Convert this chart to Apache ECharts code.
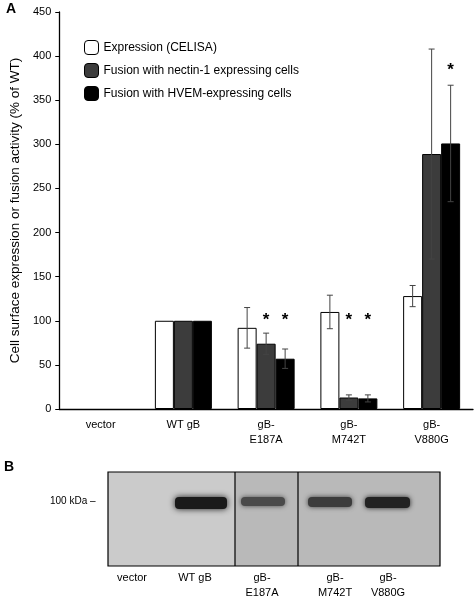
<!DOCTYPE html>
<html><head><meta charset="utf-8">
<script src="https://cdn.jsdelivr.net/npm/echarts@6/dist/echarts.min.js"></script>
<style>body{margin:0;background:#fff}</style></head>
<body>
<div id="main" style="width:474px;height:597px"></div>
<script>
var categories = ['vector', 'WT gB', 'gB-\nE187A', 'gB-\nM742T', 'gB-\nV880G'];
var seriesNames = ['Expression (CELISA)', 'Fusion with nectin-1 expressing cells', 'Fusion with HVEM-expressing cells'];
var expression = [null, 100, 92, 110, 128];
var nectin = [null, 100, 74, 13, 289];
var hvem = [null, 100, 57, 12, 301];
var expressionErr = [0, 0, 23, 19, 12];
var nectinErr = [0, 0, 12, 3, 119];
var hvemErr = [0, 0, 11, 4, 66];
// [category, series index, y]
var stars = [[2, 1, 100], [2, 2, 100], [3, 1, 100], [3, 2, 100], [4, 2, 384]];

var colors = ['#ffffff', '#3c3c3c', '#000000'];
var values = [expression, nectin, hvem];
var errs = [expressionErr, nectinErr, hvemErr];
var BW = 19;

var myChart = echarts.init(document.getElementById('main'));

var errData = [];
values.forEach(function (vals, s) {
    vals.forEach(function (v, i) {
        if (v != null && errs[s][i] > 0) errData.push([i, v, errs[s][i], s]);
    });
});

var seriesList = values.map(function (vals, s) {
    return {
        name: seriesNames[s], type: 'bar', data: vals, barWidth: BW, barGap: 0,
        itemStyle: { color: colors[s], borderColor: '#000', borderWidth: 1 }
    };
});
seriesList.push({
    type: 'custom', data: errData, z: 5,
    renderItem: function (params, api) {
        var off = (api.value(3) - 1) * BW;
        var top = api.coord([api.value(0), api.value(1) + api.value(2)]);
        var bot = api.coord([api.value(0), api.value(1) - api.value(2)]);
        var x = top[0] + off;
        var st = { stroke: '#444', lineWidth: 1 };
        return { type: 'group', children: [
            { type: 'line', shape: { x1: x, y1: top[1], x2: x, y2: bot[1] }, style: st },
            { type: 'line', shape: { x1: x - 3, y1: top[1], x2: x + 3, y2: top[1] }, style: st },
            { type: 'line', shape: { x1: x - 3, y1: bot[1], x2: x + 3, y2: bot[1] }, style: st }
        ] };
    }
});
seriesList.push({
    type: 'custom', data: stars, z: 6,
    renderItem: function (params, api) {
        var p = api.coord([api.value(0), api.value(2)]);
        return { type: 'text', x: p[0] + (api.value(1) - 1) * BW, y: p[1],
            style: { text: '*', fontSize: 17, fontWeight: 'bold', fontFamily: 'Liberation Sans', fill: '#000', align: 'center', verticalAlign: 'middle' } };
    }
});

// panel B (blot)
var bx = 108, by = 472, bw = 332, bh = 94;
function band(x, w, h, c, blur) {
    return { type: 'rect', shape: { x: x, y: 497, width: w, height: h, r: 4 },
        style: { fill: c, shadowBlur: blur, shadowColor: c } };
}
var blot = [
    { type: 'text', left: 6, top: 2, style: { text: 'A', font: 'bold 14px Liberation Sans', fill: '#000' } },
    { type: 'text', left: 4, top: 460, style: { text: 'B', font: 'bold 14px Liberation Sans', fill: '#000' } },
    { type: 'rect', shape: { x: bx, y: by, width: 127, height: bh }, style: { fill: '#cbcbcb' } },
    { type: 'rect', shape: { x: 235, y: by, width: bx + bw - 235, height: bh }, style: { fill: '#b9b9b9' } },
    band(175, 52, 12, '#1a1a1a', 6),
    band(241, 44, 9, '#4a4a4a', 5),
    band(308, 44, 10, '#3c3c3c', 5),
    band(365, 45, 11, '#222', 5),
    { type: 'rect', shape: { x: bx, y: by, width: bw, height: bh }, style: { fill: 'none', stroke: '#000', lineWidth: 1.2 } },
    { type: 'line', shape: { x1: 235, y1: by, x2: 235, y2: by + bh }, style: { stroke: '#000', lineWidth: 1.2 } },
    { type: 'line', shape: { x1: 298, y1: by, x2: 298, y2: by + bh }, style: { stroke: '#000', lineWidth: 1.2 } },
    { type: 'text', x: 50, y: 496, style: { text: '100 kDa \u2013', font: '10px Liberation Sans', fill: '#000' } }
];
var blotLabels = [['vector', 132], ['WT gB', 195], ['gB-\nE187A', 262], ['gB-\nM742T', 335], ['gB-\nV880G', 388]];
blotLabels.forEach(function (l) {
    blot.push({ type: 'text', x: l[1], y: 570, style: { text: l[0], font: '11px Liberation Sans', fill: '#000', align: 'center', lineHeight: 15 } });
});

option = {
    animation: false,
    grid: { left: 54, right: 1, top: 12, bottom: 188 },
    legend: {
        orient: 'vertical', left: 79, top: 35, itemWidth: 14, itemHeight: 14, itemGap: 8,
        data: seriesNames, textStyle: { fontSize: 12, fontFamily: 'Liberation Sans', color: '#000' },
        itemStyle: { borderColor: '#000', borderWidth: 1 }
    },
    xAxis: {
        type: 'category', data: categories,
        axisLine: { lineStyle: { color: '#000', width: 1.3 } }, axisTick: { show: false },
        axisLabel: { color: '#000', fontSize: 11, fontFamily: 'Liberation Sans', lineHeight: 15, margin: 8, interval: 0 }
    },
    yAxis: {
        type: 'value', min: 0, max: 450, interval: 50,
        name: 'Cell surface expression or fusion activity (% of WT)', nameLocation: 'middle', nameGap: 34,
        nameTextStyle: { fontSize: 13.5, fontFamily: 'Liberation Sans', color: '#000' },
        axisLine: { show: true, lineStyle: { color: '#000', width: 1.3 } },
        axisTick: { show: true, length: 4, lineStyle: { color: '#000' } },
        axisLabel: { color: '#000', fontSize: 11, fontFamily: 'Liberation Sans' },
        splitLine: { show: false }
    },
    graphic: blot,
    series: seriesList
};
myChart.setOption(option);
</script>
</body></html>
